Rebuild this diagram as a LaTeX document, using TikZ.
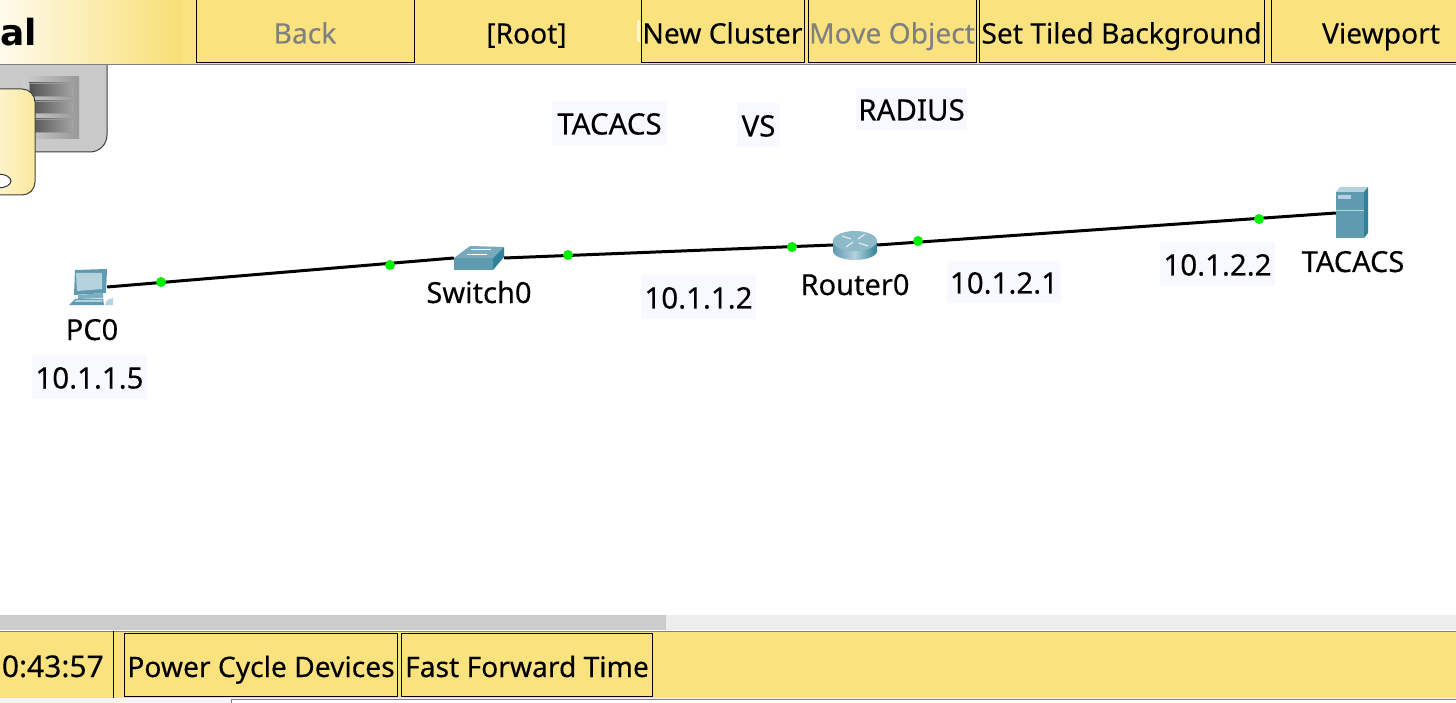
\documentclass[tikz,border=0pt]{standalone}
\usepackage{fontspec}
\setmainfont{Noto Sans}[FakeBold=0.25]
\newfontfamily\titlefont{DejaVu Sans}
\usetikzlibrary{calc}
\definecolor{band}{HTML}{FAE27F}
\definecolor{bandend}{HTML}{F8DF74}
\definecolor{lbl}{HTML}{F8F8FF}
\definecolor{tealA}{HTML}{5E9BB0}
\definecolor{tealB}{HTML}{2F8299}
\definecolor{tealC}{HTML}{B5D2DE}
\definecolor{lit}{HTML}{00F000}
\tikzset{
  x=1pt,y=-1pt,
  txt/.style={inner sep=0pt,font=\fontsize{28.2}{30}\selectfont,text height=26pt,text depth=0pt},
  tb/.style={txt,draw=black,line width=1pt,fill=band},
  dis/.style={text=black!50},
  lab/.style={fill=lbl,inner sep=0pt,font=\fontsize{29.5}{30}\selectfont,text height=23pt,text depth=0pt},
  dev/.style={inner sep=0pt,font=\fontsize{29}{30}\selectfont,text height=21pt,text depth=1pt},
  box/.style={inner sep=0pt,minimum width=#1},
  linkline/.style={line width=3pt,black},
  light/.style={circle,fill=lit,inner sep=0pt,minimum size=10pt},
}
\begin{document}
\begin{tikzpicture}
\useasboundingbox (0,0) rectangle (1456,703);
\fill[white] (0,0) rectangle (1456,703);
% clipped device behind the palette
\begin{scope}
\clip (0,64) rectangle (1456,703);
\draw[line width=1pt,draw=black!75,fill=black!21,rounded corners=17pt] (-40,30) rectangle (107,152);
\shade[left color=black!20,right color=black!40] (23,77) rectangle (79,139);
\shade[draw=black!40,line width=.6pt,left color=black!68,right color=black!35] (29,83) rectangle (74,96);
\shade[draw=black!40,line width=.6pt,left color=black!68,right color=black!35] (29,101) rectangle (74,113);
\shade[draw=black!40,line width=.6pt,left color=black!68,right color=black!35] (29,119) rectangle (74,132);
\shade[draw=black!75,line width=1pt,rounded corners=13pt,left color=band!15!white,right color=band!75!white] (-30,89) rectangle (35,195);
\draw[line width=1pt,draw=black!80,fill=white] (-2,181) ellipse (13 and 7);
\end{scope}
% top band
\fill[band] (0,0) rectangle (1456,64);
\shade[left color=band!15!white,right color=bandend] (0,0) rectangle (182,64);
\draw[black!50,line width=1pt] (0,64.5) -- (1456,64.5);
\node[anchor=base east,font=\fontsize{36}{36}\titlefont\bfseries,inner sep=0pt] (title) at (37.5,46) {al};
\node[tb,dis,minimum width=218pt,minimum height=64pt] (back) at (305,30.5) {Back};
\node[txt] (root) at (526.5,30.5) {[Root]};
\fill[band!35!white] (637,20) rectangle (640,42);
\node[tb,minimum width=163pt,minimum height=64pt] (cluster) at (722.5,30.5) {New Cluster};
\node[tb,dis,minimum width=168pt,minimum height=64pt] (move) at (892,30.5) {Move Object};
\node[tb,minimum width=285pt,minimum height=64pt] (tiled) at (1121.5,30.5) {Set Tiled Background};
\node[tb,minimum width=190pt,minimum height=64pt] (view) at (1366,30.5) {};
\node[txt] (viewtext) at (1381,30.5) {Viewport};
% bottom
\fill[black!20] (0,615) rectangle (666,630);
\fill[black!7] (666,615) rectangle (1456,630);
\fill[band] (0,631) rectangle (1456,698);
\draw[black!50,line width=1pt] (0,631) -- (1456,631);
\fill[black!4] (0,698) rectangle (1456,703);
\draw[black!50,line width=1pt,fill=white] (231,704) -- (231,699) -- (1457,699) -- (1457,704) -- cycle;
\node[inner sep=0pt,anchor=base east,font=\fontsize{30}{30}\selectfont] (clock) at (104,677) {0:43:57};
\draw[black,line width=1.8pt] (113.5,631) -- (113.5,698);
\node[tb,minimum width=273pt,minimum height=63pt,text height=25pt] (power) at (261,664.5) {Power Cycle Devices};
\node[tb,minimum width=251pt,minimum height=63pt,text height=25pt] (fast) at (527,664.5) {Fast Forward Time};
% device anchors
\node[box=34pt,minimum height=36pt] (pc) at (90,287) {};
\node[box=50pt,minimum height=24pt] (sw) at (479,258) {};
\node[box=44pt,minimum height=30pt] (rt) at (855,245) {};
\node[box=32pt,minimum height=52pt] (srv) at (1352,213) {};
% links
\draw[linkline] (pc.east) -- (sw.west);
\draw[linkline] (sw.east) -- (rt.west);
\draw[linkline] (rt.east) -- (srv.west);
\node[light] (l1) at (161,282) {};
\node[light] (l2) at (390,265) {};
\node[light] (l3) at (568,255) {};
\node[light] (l4) at (792,247) {};
\node[light] (l5) at (918,241) {};
\node[light] (l6) at (1259,219) {};
% PC icon
\fill[tealA] (75,270) -- (107,269) -- (106,293) -- (74,295) -- cycle;
\fill[tealC] (76,273) -- (102,273) -- (102,289) -- (77,291) -- cycle;
\fill[tealA!80!white] (78,295) -- (103,293) -- (103,298) -- (78,299) -- cycle;
\fill[tealA] (75,299) -- (103,299) -- (104,305) -- (69,305) -- cycle;
\fill[tealC] (76,300) -- (102,300) -- (102,302) -- (74,302) -- cycle;
\fill[tealC] (107,300) -- (113,298) -- (113,305) -- (105,305) -- cycle;
% switch icon
\fill[tealA!85!white] (454,258) -- (470,246) -- (504,247) -- (493,258) -- cycle;
\fill[tealA] (454,258) rectangle (493,270);
\fill[tealB] (493,258) -- (504,247) -- (504,257) -- (493,270) -- cycle;
\draw[white,line width=.8pt] (471,249.5) -- (491,249.5) (467,254) -- (487,254);
% router icon
\shade[left color=tealA,right color=tealB,middle color=tealC] (833,241) -- (833,251) arc[start angle=180,end angle=0,x radius=22,y radius=9] -- (877,241) -- cycle;
\fill[tealA!70!white] (855,241) ellipse (22 and 10);
\draw[white!80!tealA,line width=1.2pt] (842,236) -- (851,239) (859,243) -- (868,246) (846,247) -- (853,242) (858,239) -- (865,234);
% server icon
\fill[tealA] (1336,192) rectangle (1364,238);
\fill[tealC] (1336,192) -- (1340,187) -- (1368,187) -- (1364,192) -- cycle;
\fill[tealB] (1364,192) -- (1368,187) -- (1368,233) -- (1364,238) -- cycle;
\fill[tealC] (1338,195) rectangle (1351,199);
\draw[tealC,line width=.6pt] (1336,210) -- (1364,210);
% device labels
\node[dev] (pcl) at (92,330) {PC0};
\node[dev] (swl) at (479,293) {Switch0};
\node[dev] (rtl) at (855,285) {Router0};
\node[dev] (srvl) at (1353,262) {TACACS};
% annotations
\node[lab,minimum width=115pt,minimum height=44pt] (a1) at (609.5,123) {TACACS};
\node[lab,minimum width=43pt,minimum height=44pt] (a2) at (758.5,125) {VS};
\node[lab,minimum width=111pt,minimum height=42pt] (a3) at (911.5,109) {RADIUS};
\node[lab,minimum width=115pt,minimum height=44pt] (a4) at (698.5,297) {10.1.1.2};
\node[lab,minimum width=114pt,minimum height=42pt] (a5) at (1004,282) {10.1.2.1};
\node[lab,minimum width=115pt,minimum height=44pt] (a6) at (1217.5,264) {10.1.2.2};
\node[lab,minimum width=115pt,minimum height=44pt] (a7) at (89.5,377) {10.1.1.5};
\end{tikzpicture}
\end{document}
